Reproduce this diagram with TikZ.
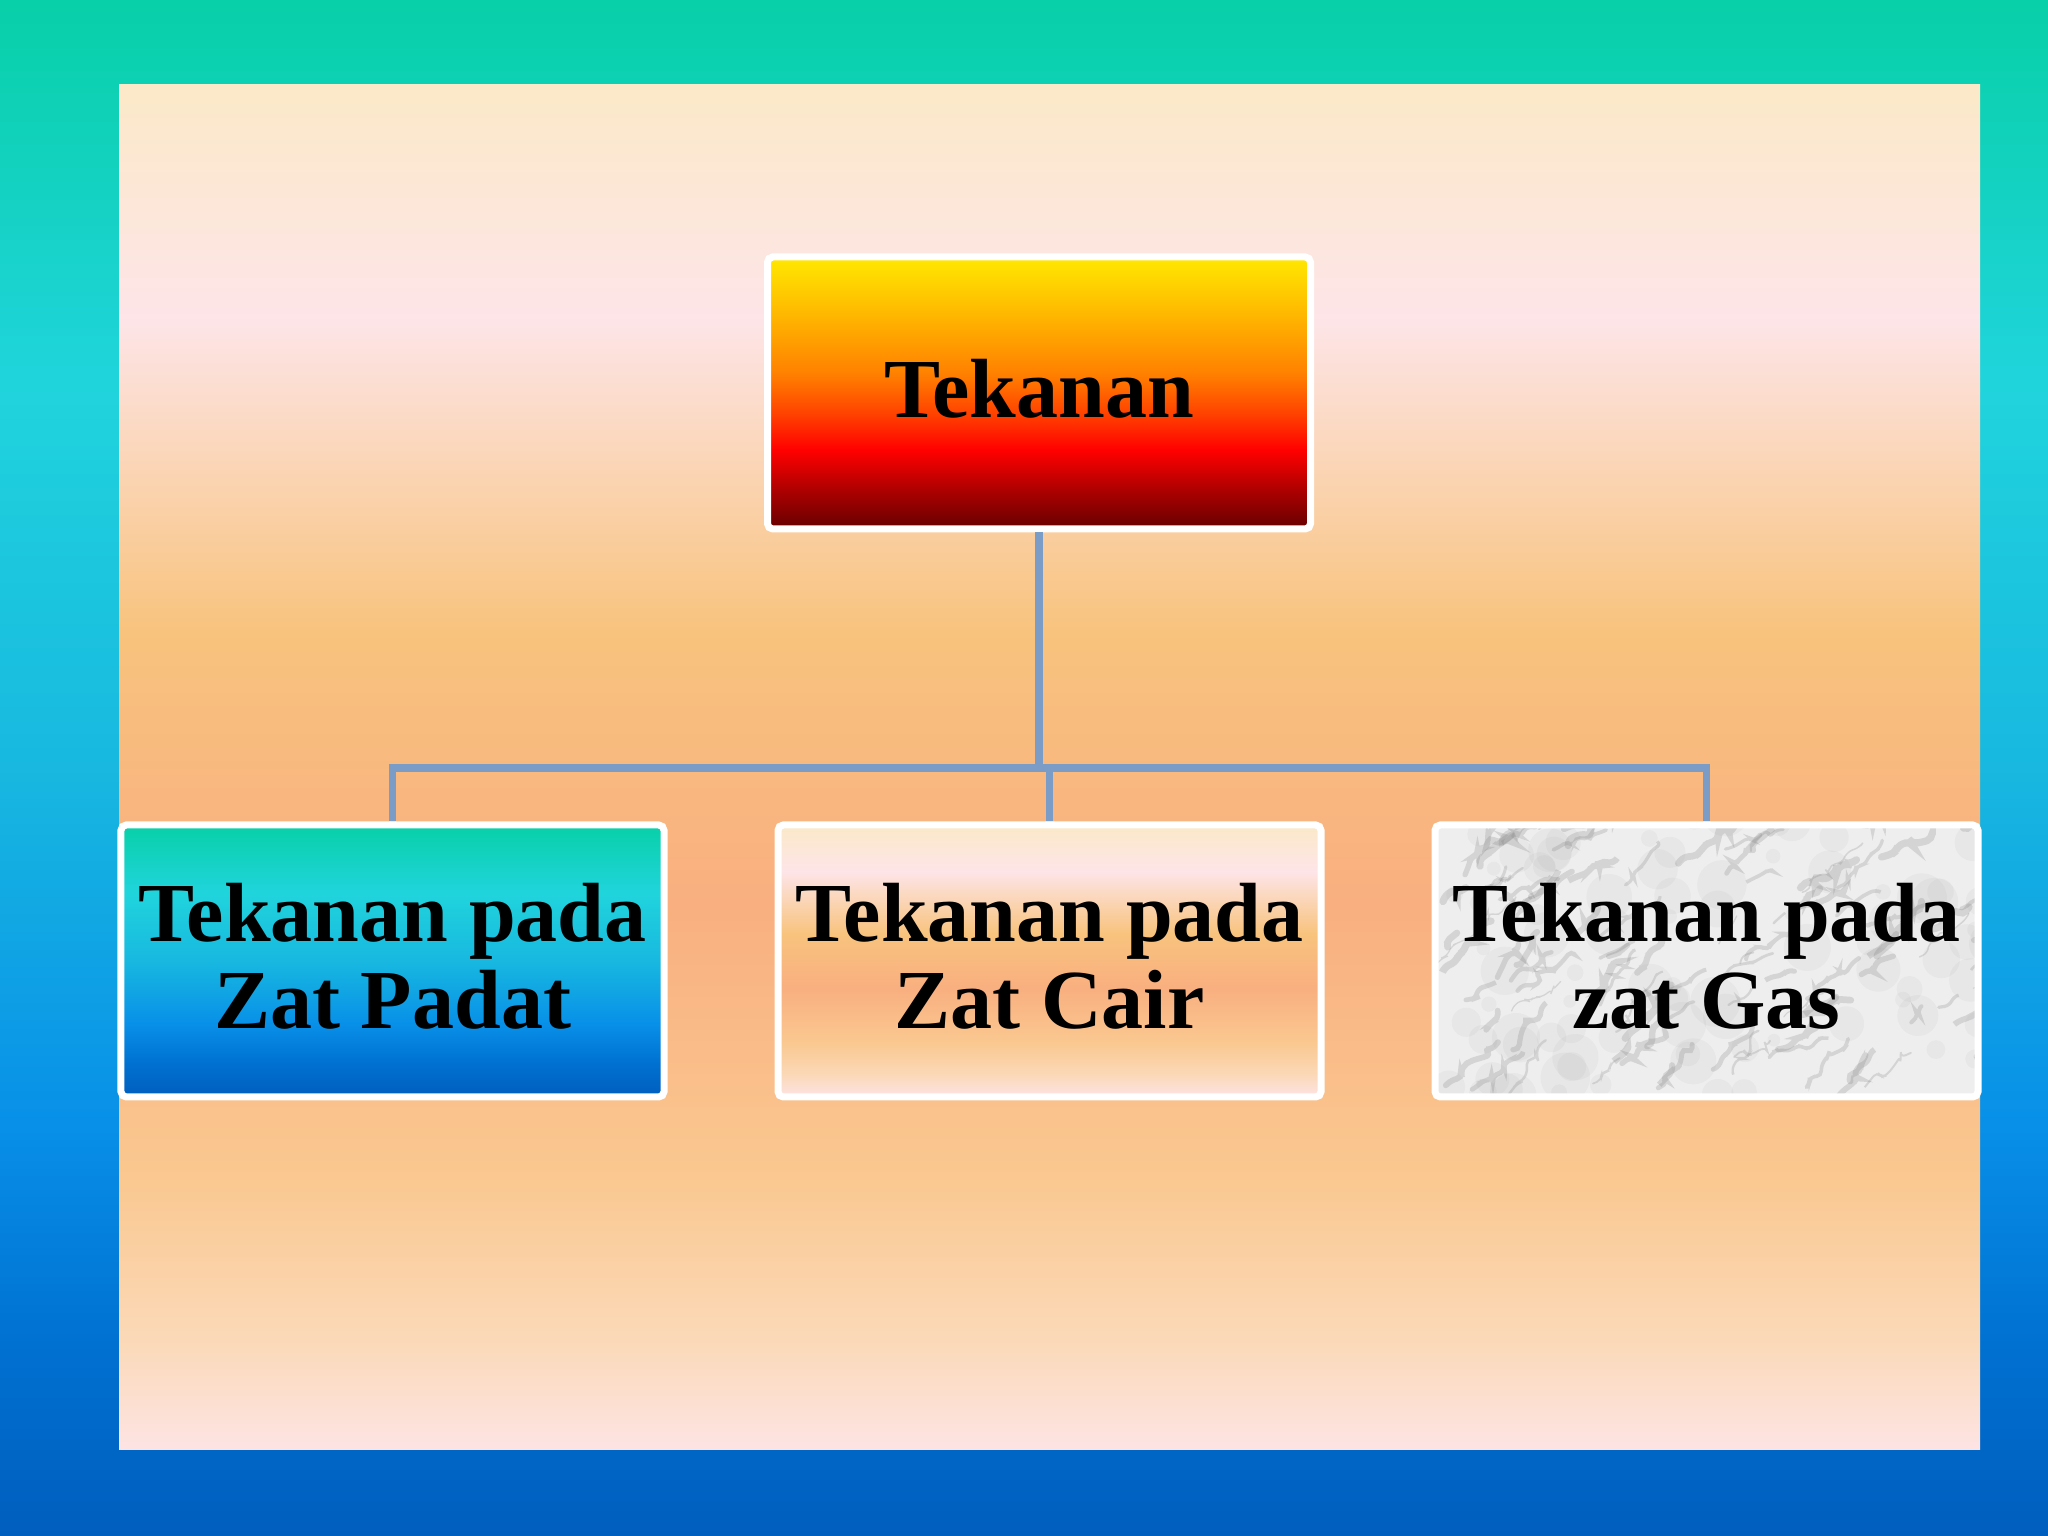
\documentclass[tikz,border=0pt]{standalone}
\usepackage{fontspec}
\setmainfont{Liberation Serif}
\usetikzlibrary{
	positioning,
	decorations.pathmorphing
}

\definecolor{skyA}{HTML}{08D0A8}
\definecolor{skyB}{HTML}{20D4DC}
\definecolor{skyC}{HTML}{18B8E0}
\definecolor{skyD}{HTML}{0890E8}
\definecolor{skyE}{HTML}{0070D0}
\definecolor{skyF}{HTML}{005EBE}

\definecolor{peachA}{HTML}{FBE9C8}
\definecolor{peachB}{HTML}{FDE5E8}
\definecolor{peachC}{HTML}{F8C37D}
\definecolor{peachD}{HTML}{F9AF80}
\definecolor{peachE}{HTML}{FAC890}
\definecolor{peachF}{HTML}{FBD9B8}
\definecolor{peachG}{HTML}{FDE4E4}

\definecolor{fireA}{HTML}{FFE800}
\definecolor{fireB}{HTML}{FFBF00}
\definecolor{fireC}{HTML}{FF8000}
\definecolor{fireD}{HTML}{FF4000}
\definecolor{fireE}{HTML}{FF0000}
\definecolor{fireF}{HTML}{B00000}
\definecolor{fireG}{HTML}{650000}

\definecolor{linkblue}{HTML}{7C9CC8}
\definecolor{marblebase}{HTML}{EEEEEE}
\definecolor{veingray}{HTML}{7A7A7A}

\pgfdeclareverticalshading{sky}{100bp}{color(0bp)=(skyF); color(25bp)=(skyF);
	color(31bp)=(skyE); color(38.5bp)=(skyD); color(50bp)=(skyC);
	color(62.5bp)=(skyB); color(75bp)=(skyA); color(100bp)=(skyA)}
\pgfdeclareverticalshading{peach}{100bp}{color(0bp)=(peachG); color(25bp)=(peachG);
	color(29bp)=(peachF); color(35bp)=(peachE); color(45bp)=(peachD);
	color(55bp)=(peachC); color(66.5bp)=(peachB); color(75bp)=(peachA); color(100bp)=(peachA)}
\pgfdeclareverticalshading{fire}{100bp}{color(0bp)=(fireG); color(25bp)=(fireG);
	color(32.5bp)=(fireF); color(39.5bp)=(fireE); color(46bp)=(fireD);
	color(53.5bp)=(fireC); color(66bp)=(fireB); color(75bp)=(fireA); color(100bp)=(fireA)}

\begin{document}
\begin{tikzpicture}[
				box/.style={
					draw=white,
					line width=0.07cm,
					rounded corners=1.5pt,
					minimum width=5.43cm,
					minimum height=2.72cm,
					inner sep=0pt,
					text depth=0.1cm,
					align=center,
					font=\fontsize{23.9}{24.75}\selectfont\bfseries
				},
				vein/.style={
					draw=veingray,
					opacity=0.22,
					line cap=round,
					decorate,
					decoration={random steps, segment length=2pt, amplitude=1.5pt}
				},
				marble/.style={
					box,
					fill=marblebase,
					path picture={
						\pgfmathsetseed{42}
						\foreach \k in {1,...,90}{
							\pgfmathsetmacro{\bx}{rnd*5.6}
							\pgfmathsetmacro{\by}{rnd*2.9}
							\pgfmathsetmacro{\br}{0.05+rnd*0.2}
							\fill[veingray, opacity=0.06] ([shift={(\bx,\by)}]path picture bounding box.south west) circle (\br);
						}
						\foreach \k in {1,...,110}{
							\pgfmathsetmacro{\vx}{rnd*5.6}
							\pgfmathsetmacro{\vy}{rnd*2.9}
							\pgfmathsetmacro{\vl}{0.15+rnd*0.6}
							\pgfmathsetmacro{\va}{15+rnd*45}
							\pgfmathsetmacro{\vw}{0.3+rnd*1.8}
							\draw[vein, line width=\vw pt] ([shift={(\vx,\vy)}]path picture bounding box.south west) -- ++(\va:\vl);
						}
					}
				},
				link/.style={
					draw=linkblue,
					line width=0.077cm
				}
				]
				
				\useasboundingbox (0,0) rectangle (20.48,15.36);
				\shade[shading=sky] (0,0) rectangle (20.48,15.36);
				\shade[shading=peach] (1.19,0.86) rectangle (19.80,14.51);
				
				\node[box, shade, shading=fire] (tekanan) at (10.39,11.43) {Tekanan};
				
				\node[box, shade, shading=peach] (cair) at (10.495,5.75) {
					Tekanan pada\\
					Zat Cair
				};
				
				\node[box, shade, shading=sky, left=1.07cm of cair] (padat) {
					Tekanan pada\\
					Zat Padat
				};
				
				\node[marble, right=1.07cm of cair] (gas) {
					Tekanan pada\\
					zat Gas
				};
				
				\coordinate (bus) at (0,7.68);
				
				\draw[link] (tekanan.south) -- (tekanan.south |- bus) -| (padat.north);
				\draw[link] (tekanan.south |- bus) -| (gas.north);
				\draw[link] (tekanan.south |- bus) -| (cair.north);
				
			\end{tikzpicture}
\end{document}
